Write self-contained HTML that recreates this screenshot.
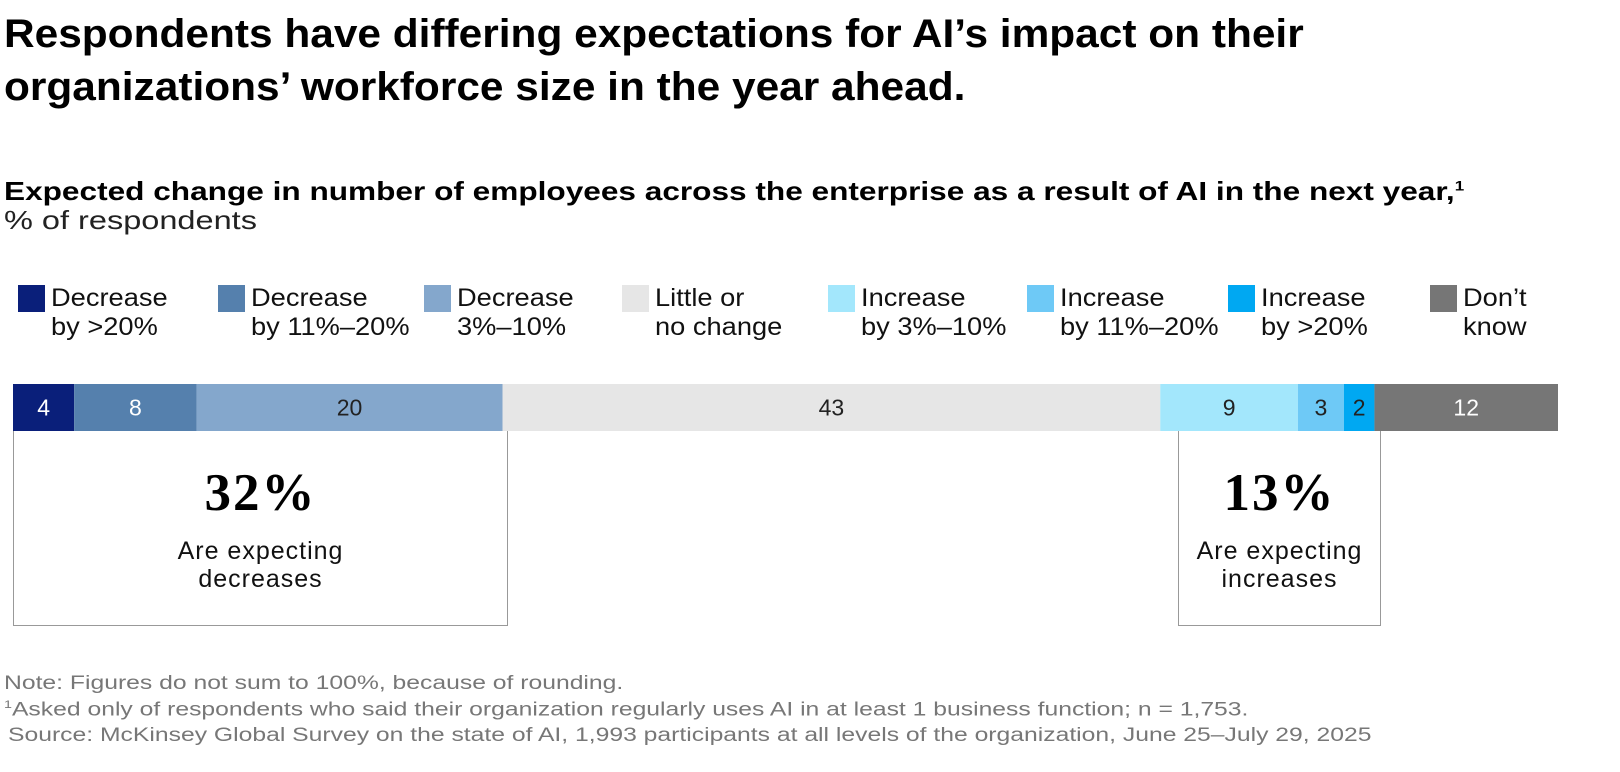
<!DOCTYPE html>
<html><head><meta charset="utf-8"><style>
body{margin:0;width:1620px;height:772px;background:#fff;font-family:"Liberation Sans",sans-serif;position:relative;overflow:hidden;color:#000}
.abs{position:absolute;white-space:nowrap;transform-origin:0 0}
#title{left:4px;top:8px;font-size:40px;font-weight:bold;line-height:53px;transform:scaleX(1.06)}
#sub{left:4px;top:176px;font-size:26px;font-weight:bold;transform:scaleX(1.215)}
#unit{left:4px;top:205px;font-size:26px;color:#222;transform:scaleX(1.25)}
.leg{position:absolute;top:285px;font-size:25px;line-height:29px;color:#111}
.leg .sw{position:absolute;left:0;top:0;width:27px;height:27px}
.leg .tx{position:absolute;left:33px;top:-1px;white-space:nowrap;transform:scaleX(1.09);transform-origin:0 0}
.note{left:4px;font-size:19px;color:#777;transform:scaleX(1.3)}
.box{position:absolute;border:1px solid #999;border-top:none;box-sizing:border-box;text-align:center}
.big{font-family:"Liberation Serif",serif;font-weight:bold;font-size:53px;letter-spacing:2px;margin-top:32px;line-height:60px}
.lbl{font-size:25px;letter-spacing:1px;line-height:28px;color:#111;margin-top:14px}
</style></head><body>
<div id="title" class="abs">Respondents have differing expectations for AI’s impact on their<br>organizations’ workforce size in the year ahead.</div>
<div id="sub" class="abs">Expected change in number of employees across the enterprise as a result of AI in the next year,<sup style="font-size:14px">1</sup></div>
<div id="unit" class="abs">% of respondents</div>
<div id="legend"></div>
<svg id="chart" style="position:absolute;left:0;top:0" width="1620" height="772"></svg>
<div class="box" style="left:13px;top:431px;width:495px;height:195px"><div class="big">32%</div><div class="lbl">Are expecting<br>decreases</div></div>
<div class="box" style="left:1178px;top:431px;width:203px;height:195px"><div class="big">13%</div><div class="lbl">Are expecting<br>increases</div></div>
<div class="abs note" style="top:673px">Note: Figures do not sum to 100%, because of rounding.</div>
<div class="abs note" style="top:699px"><sup style="font-size:11px">1</sup>Asked only of respondents who said their organization regularly uses AI in at least 1 business function; n = 1,753.</div>
<div class="abs note" style="top:725px;left:8px">Source: McKinsey Global Survey on the state of AI, 1,993 participants at all levels of the organization, June 25–July 29, 2025</div>
<script>
const categories=["Decrease\nby >20%","Decrease\nby 11%–20%","Decrease\n3%–10%","Little or\nno change","Increase\nby 3%–10%","Increase\nby 11%–20%","Increase\nby >20%","Don’t\nknow"];
const values=[4,8,20,43,9,3,2,12];
const colors=["#0a1f7a","#5580ad","#84a7cc","#e6e6e6","#a3e7fc","#6ec9f6","#00a8f2","#767676"];
const textColors=["#fff","#fff","#222","#222","#222","#222","#222","#fff"];
const legendX=[18,218,424,622,828,1027,1228,1430];
const ns="http://www.w3.org/2000/svg";
const svg=document.getElementById('chart');
const x0=13,x1=1558,y=384,h=47;
const total=values.reduce((a,b)=>a+b,0);
const xs=v=>x0+(x1-x0)*v/total;
let acc=0;
values.forEach((v,i)=>{
  const r=document.createElementNS(ns,'rect');
  r.setAttribute('x',xs(acc));r.setAttribute('y',y);
  r.setAttribute('width',xs(acc+v)-xs(acc));r.setAttribute('height',h);
  r.setAttribute('fill',colors[i]);
  
  
  svg.appendChild(r);
  const t=document.createElementNS(ns,'text');
  t.setAttribute('x',(xs(acc)+xs(acc+v))/2);t.setAttribute('y',y+h/2+8);
  t.setAttribute('text-anchor','middle');t.setAttribute('font-size','23');
  t.setAttribute('fill',textColors[i]);t.setAttribute('font-family','Liberation Sans, sans-serif');
  t.textContent=v;
  
  
  svg.appendChild(t);
  acc+=v;
});
const leg=document.getElementById('legend');
categories.forEach((c,i)=>{
  const d=document.createElement('div');d.className='leg';d.style.left=legendX[i]+'px';
  
  
  d.innerHTML='<div class="sw" style="background:'+colors[i]+'"></div><div class="tx">'+c.replace('\n','<br>')+'</div>';
  leg.appendChild(d);
});
</script>
</body></html>
